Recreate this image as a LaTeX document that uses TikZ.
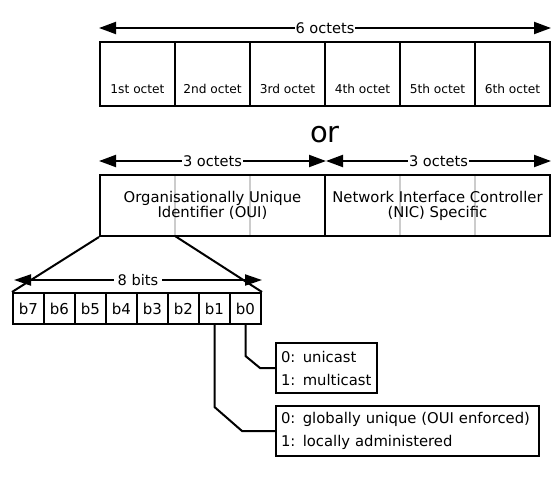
\documentclass[tikz,border=0pt]{standalone}
\usepackage{fontspec}
\setmainfont{DejaVu Sans}
\usetikzlibrary{arrows.meta,calc}
\begin{document}
\begin{tikzpicture}[x=1pt,y=-1pt,
  box/.style={draw=black,line width=2pt,fill=none,inner sep=0pt},
  octbox/.style={box,minimum width=75pt,minimum height=64pt},
  bitbox/.style={box,minimum width=31pt,minimum height=31pt,font=\fontsize{15}{17}\selectfont},
  lbl/.style={font=\fontsize{12.2}{14}\selectfont,inner sep=0pt},
  dim/.style={line width=2pt,{Triangle[length=17pt,width=12pt]}-{Triangle[length=17pt,width=12pt]}},
  dimlbl/.style={fill=white,inner sep=1pt,font=\fontsize{14.6}{16}\selectfont},
  conn/.style={line width=2pt},
  bigtxt/.style={box,minimum width=225pt,minimum height=61pt,align=center,font=\fontsize{14.8}{15}\selectfont},
  callout/.style={box,align=left,anchor=west,inner xsep=5pt,inner ysep=0pt,minimum height=50pt,font=\fontsize{14.8}{23}\selectfont},
]
\useasboundingbox (0,0) rectangle (558,483);
% top row: 6 octets
\foreach \i/\t in {1/1st,2/2nd,3/3rd,4/4th,5/5th,6/6th}{
  \node[octbox] (o\i) at ({100+75*(\i-1)+37.5},74) {};
  \node[lbl,anchor=base] (t\i) at ($(o\i.south)+(0,-14)$) {\t\ octet};
}
\coordinate (a6l) at ($(o1.north west)+(0,-13)$);
\coordinate (a6r) at ($(o6.north east)+(0,-13)$);
\draw[dim] (a6l) -- node[dimlbl] (l6) {6 octets} (a6r);
% or
\node[font=\fontsize{29}{30}\selectfont,inner sep=0pt,anchor=base] (or) at (325,142) {or};
% second row
\draw[line width=2pt,color=black!20] (175,176) -- (175,235) (250,176) -- (250,235)
  (400,176) -- (400,235) (475,176) -- (475,235);
\node[bigtxt] (oui) at (212.5,205.5) {Organisationally Unique\\Identifier (OUI)};
\node[bigtxt] (nic) at (437.5,205.5) {Network Interface Controller\\(NIC) Specific};
\coordinate (a3l) at ($(oui.north west)+(0,-13)$);
\coordinate (a3m) at ($(oui.north east)+(0,-13)$);
\coordinate (a3r) at ($(nic.north east)+(0,-13)$);
\draw[dim] (a3l) -- node[dimlbl] (l3a) {3 octets} (a3m);
\draw[dim] (a3m) -- node[dimlbl] (l3b) {3 octets} (a3r);
% bits
\foreach \i/\t in {0/b7,1/b6,2/b5,3/b4,4/b3,5/b2,6/b1,7/b0}{
  \node[bitbox] (\t) at ({13+31*\i+15.5},308.5) {\t};
}
\coordinate (ouimid) at (175,236);
\draw[conn] (oui.south west) -- (b7.north west);
\draw[conn] (ouimid) -- (b0.north east);
\coordinate (a8l) at ($(b7.north west)+(2,-12)$);
\coordinate (a8r) at ($(b0.north east)+(0,-12)$);
\draw[dim,{Triangle[length=17pt,width=11pt]}-{Triangle[length=17pt,width=11pt]}] (a8l) -- node[dimlbl,inner xsep=4pt] (l8) {8 bits} (a8r);
% callouts
\node[callout,text width=91pt] (u) at (275,368) {0: unicast\\1: multicast};
\node[callout,text width=253pt] (g) at (275,431) {0: globally unique (OUI enforced)\\1: locally administered};
\draw[conn] (b0.south) -- ($(b0.south)+(0,31)$) -- ($(u.west)+(-15,0)$) -- (u.west);
\draw[conn] (b1.south) -- ($(b1.south)+(0,82)$) -- ($(g.west)+(-33,0)$) -- (g.west);
\end{tikzpicture}
\end{document}
